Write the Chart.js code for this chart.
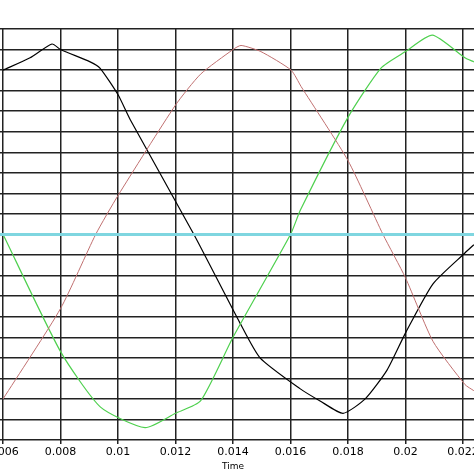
<!DOCTYPE html>
<html>
<head>
<meta charset="utf-8">
<script src="https://cdn.jsdelivr.net/npm/chart.js@4/dist/chart.umd.min.js"></script>
<style>
  html, body { margin: 0; padding: 0; background: #fff; overflow: hidden; }
  #wrap { position: absolute; left: -40px; top: 0; width: 560px; height: 474px; }
</style>
</head>
<body>
<div id="wrap"><canvas id="plot"></canvas></div>
<script>
// Data (time in s, signal value)
const blackT = [0.006, 0.00694, 0.0077, 0.008, 0.00903, 0.00937, 0.01, 0.01042, 0.01264, 0.01424, 0.01494, 0.01633, 0.01703, 0.01783, 0.01860, 0.01936, 0.02, 0.02096, 0.02207, 0.02238];
const blackV = [8.0, 8.6, 9.27, 9.0, 8.4, 8.1, 6.8, 5.6, 0, -4.3, -6.0, -7.5, -8.1, -8.7, -8.0, -6.6, -4.8, -2.4, -0.9, -0.5];

const redT = [0.006, 0.008, 0.00922, 0.01, 0.012, 0.01287, 0.014, 0.01428, 0.01497, 0.01602, 0.01637, 0.018, 0.01922, 0.02, 0.02096, 0.02207, 0.02238];
const redV = [-8.0, -3.6, 0, 1.9, 6.3, 7.8, 9.0, 9.2, 8.9, 8.0, 7.2, 3.6, 0, -2.1, -5.2, -7.3, -7.6];

const greenT = [0.006, 0.008, 0.00939, 0.01094, 0.012, 0.01287, 0.014, 0.016, 0.01635, 0.018, 0.01915, 0.02, 0.02094, 0.02207, 0.02238];
const greenV = [0, -5.7, -8.4, -9.4, -8.7, -8.1, -5.0, 0, 1.2, 5.7, 8.1, 8.9, 9.7, 8.6, 8.4];

const flatT = [0.0045, 0.0235];
const cyanV = [0, 0];
const purpleV = [0, 0];

const xTicks = [0.006, 0.008, 0.01, 0.012, 0.014, 0.016, 0.018, 0.02, 0.022];

const toPoints = (t, v) => t.map((x, i) => ({ x, y: v[i] }));

const series = (data, color, width) => ({
  data,
  borderColor: color,
  borderWidth: width,
  pointRadius: 0,
  tension: 0.2,
  fill: false
});

new Chart(document.getElementById('plot'), {
  type: 'line',
  data: {
    datasets: [
      series(toPoints(flatT, cyanV), '#7fd6e0', 3),
      series(toPoints(flatT, purpleV), '#5a3fb0', 1),
      series(toPoints(redT, redV), '#c07070', 1),
      series(toPoints(greenT, greenV), '#4ed04e', 1.2),
      series(toPoints(blackT, blackV), '#000000', 1.2)
    ]
  },
  options: {
    responsive: true,
    maintainAspectRatio: false,
    animation: false,
    layout: { padding: { top: 29, left: 0, right: 14, bottom: 2 } },
    plugins: { legend: { display: false }, tooltip: { enabled: false } },
    scales: {
      x: {
        type: 'linear',
        min: 0.0045,
        max: 0.0235,
        afterBuildTicks: (axis) => { axis.ticks = xTicks.map(value => ({ value })); },
        ticks: {
          autoSkip: false,
          maxRotation: 0,
          color: '#000',
          font: { family: 'DejaVu Sans', size: 11 },
          padding: 2,
          callback: (v) => String(+v.toFixed(3))
        },
        grid: { color: '#222', lineWidth: 1.5, tickLength: 4 },
        border: { display: false },
        title: { display: true, text: 'Time', color: '#000', font: { family: 'DejaVu Sans', size: 9 }, padding: { top: 0, bottom: 0 } }
      },
      y: {
        min: -10,
        max: 10,
        ticks: { stepSize: 1, display: false },
        grid: { color: '#222', lineWidth: 1.5, drawTicks: false },
        border: { display: false }
      }
    }
  }
});
</script>
</body>
</html>
